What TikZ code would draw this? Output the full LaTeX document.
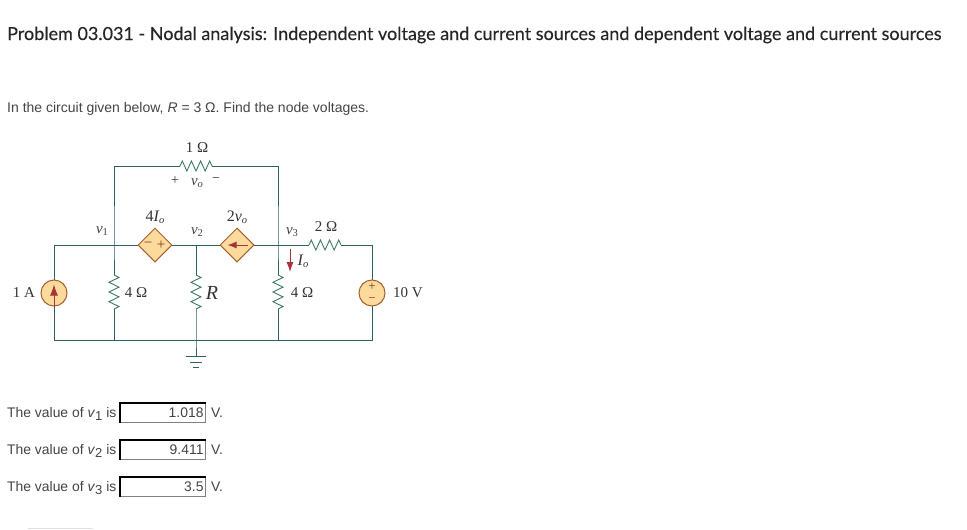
\documentclass[tikz,border=0pt]{standalone}
\usepackage{fontspec}
\setmainfont{Liberation Sans}
\newfontfamily\headfont[FakeBold=0.25]{Lato}
\newfontfamily\circfont{Liberation Serif}
\usetikzlibrary{calc,positioning,shapes.geometric,arrows.meta}
\definecolor{wirecol}{HTML}{2F5F60}
\definecolor{rescol}{HTML}{3E7A62}
\definecolor{srcfill}{HTML}{FBDA9C}
\definecolor{srcedge}{HTML}{A5602E}
\definecolor{signcol}{HTML}{7A3B1E}
\definecolor{arrowred}{HTML}{A8323A}
\definecolor{textcol}{HTML}{444444}
\tikzset{
    wire/.style={draw=wirecol,line width=0.9pt},
    res/.style={draw=rescol,line width=0.9pt,line join=miter},
    source/.style={circle,draw=srcedge,fill=srcfill,line width=1pt,minimum size=26pt,inner sep=0pt},
    depsource/.style={diamond,draw=srcedge,fill=srcfill,line width=1pt,minimum size=34pt,inner sep=0pt},
    redarrow/.style={draw=arrowred,line width=1pt,-{Latex[length=10pt,width=7pt]}},
    signlabel/.style={inner sep=0pt,text=signcol,font=\circfont\fontsize{15}{15}\selectfont},
    clabel/.style={font=\circfont\fontsize{15}{17}\selectfont,text=black!80,inner sep=0pt},
    slabel/.style={font=\circfont\itshape\fontsize{15}{16}\selectfont,text=black!75,inner sep=0pt},
    body/.style={font=\fontsize{13.9}{16}\selectfont,text=textcol,inner sep=0pt,anchor=base west},
    ansbox/.style={draw=black!50,line width=1pt,minimum width=85pt,minimum height=19pt,inner sep=2pt,anchor=north west,font=\fontsize{13.9}{16}\selectfont,text=textcol,text width=81pt,align=right},
}
\newcommand{\subv}[1]{\textit{v}\raisebox{-3.5pt}{\fontsize{13}{13}\selectfont #1}}
\newcommand{\subc}[2]{#1\raisebox{-2pt}{\fontsize{10.5}{10.5}\selectfont #2}}
\newcommand{\resistor}[2]{\draw[res] (#1) \foreach \i/\s in {1/1,3/-1,5/1,7/-1,9/1,11/-1,13/1} {-- ($(#1)!\i/14!(#2)!\s*5pt!90:(#2)$)} -- (#2);}
\begin{document}
\begin{tikzpicture}[x=1pt,y=-1pt]
    \useasboundingbox (0,0) rectangle (967,530);

    % heading and question
    \node[font=\headfont\fontsize{18}{20}\selectfont,text=black!85,inner sep=0pt,anchor=base west] (title) at (7,40) {Problem 03.031 - Nodal analysis: Independent voltage and current sources and dependent voltage and current sources};
    \node[body,font=\fontsize{14}{16}\selectfont] (question) at (7,112) {In the circuit given below, \textit{R} = 3 Ω. Find the node voltages.};

    % nodes of the circuit
    \coordinate (tl) at (114,166);
    \coordinate (tr) at (278,166);
    \coordinate (ml) at (54,245);
    \coordinate (v1) at (114,245);
    \coordinate (v2) at (196,245);
    \coordinate (v3) at (278,245);
    \coordinate (mr) at (372,245);
    \coordinate (bl) at (54,340);
    \coordinate (b1) at (114,340);
    \coordinate (b2) at (196,340);
    \coordinate (b3) at (278,340);
    \coordinate (br) at (372,340);
    \coordinate (gnd) at (196,356);

    % resistor ends
    \coordinate (r1a) at (180,166);
    \coordinate (r1b) at (212,166);
    \coordinate (r2a) at (309,245);
    \coordinate (r2b) at (341,245);
    \coordinate (r4a) at (114,275);
    \coordinate (r4b) at (114,309);
    \coordinate (rra) at (196,275);
    \coordinate (rrb) at (196,309);
    \coordinate (r3a) at (278,275);
    \coordinate (r3b) at (278,309);

    % wires
    \draw[wire] (r1a) -- (tl) -- (v1) -- (r4a);
    \draw[wire] (r4b) -- (b1);
    \draw[wire] (r1b) -- (tr) -- (v3) -- (r3a);
    \draw[wire] (r3b) -- (b3);
    \draw[wire] (v2) -- (rra);
    \draw[wire] (rrb) -- (b2) -- (gnd);
    \draw[wire] (r2a) -- (ml) -- (bl) -- (br) -- (mr) -- (r2b);

    % resistors
    \resistor{r1a}{r1b}
    \resistor{r2a}{r2b}
    \resistor{r4a}{r4b}
    \resistor{rra}{rrb}
    \resistor{r3a}{r3b}

    % sources
    \node[source] (isrc) at (54,293) {};
    \node[source] (vsrc) at (372,293) {};
    \node[depsource] (dv) at (155,245) {};
    \node[depsource] (di) at (237,245) {};
    \draw[redarrow,shorten <=1pt,shorten >=5pt,-{Latex[length=11pt,width=8pt]}] (isrc.south) -- (isrc.north);
    \draw[redarrow,shorten <=7pt,shorten >=8pt,-{Latex[length=9pt,width=7pt]}] (di.east) -- (di.west);
    \node[signlabel] (dvm) at (148,245) {−};
    \node[signlabel] (dvp) at (161,245) {+};
    \node[signlabel,font=\circfont\fontsize{13}{13}\selectfont] (vsp) at (372,287) {+};
    \node[signlabel,font=\circfont\fontsize{13}{13}\selectfont] (vsm) at (372,300) {−};

    % ground
    \draw[wire] ($(gnd)+(-10,0)$) -- ($(gnd)+(10,0)$);
    \draw[wire] ($(gnd)+(-6,6)$) -- ($(gnd)+(6,6)$);
    \draw[wire] ($(gnd)+(-3,11)$) -- ($(gnd)+(3,11)$);

    % current arrow
    \coordinate (ioa) at (290,249);
    \coordinate (iob) at (290,272);
    \draw[redarrow] (ioa) -- (iob);

    % labels of the circuit
    \node[clabel] (l1) at (197,148) {1 Ω};
    \node[clabel] (l2) at (326,227) {2 Ω};
    \node[clabel] (l3) at (136,293) {4 Ω};
    \node[clabel] (l4) at (302,293) {4 Ω};
    \node[clabel] (l5) at (24,293) {1 A};
    \node[clabel] (l6) at (408,293) {10 V};
    \node[clabel,font=\circfont\itshape\fontsize{20}{22}\selectfont] (lr) at (212,293) {R};
    \node[clabel,font=\circfont\fontsize{14}{15}\selectfont] (lp) at (175,181) {+};
    \node[clabel,font=\circfont\fontsize{14}{15}\selectfont] (lm) at (216,180) {−};
    \node[slabel] (lvo) at (197,183) {\subc{v}{o}};
    \node[slabel] (lv1) at (102,231) {\subc{v}{\textup{1}}};
    \node[slabel] (lv2) at (197,232) {\subc{v}{\textup{2}}};
    \node[slabel] (lv3) at (292,232) {\subc{v}{\textup{3}}};
    \node[clabel,font=\circfont\itshape\fontsize{16}{17}\selectfont] (l4i) at (155,217) {\subc{\textup{4}\textit{I}}{o}};
    \node[clabel,font=\circfont\itshape\fontsize{16}{17}\selectfont] (l2v) at (237,217) {\subc{\textup{2}\textit{v}}{o}};
    \node[clabel,font=\circfont\itshape\fontsize{16}{17}\selectfont] (lio) at (303,261) {\subc{I}{o}};

    % answers
    \node[body] (a1) at (7,417) {The value of \subv{1} is};
    \node[body] (a2) at (7,454) {The value of \subv{2} is};
    \node[body] (a3) at (7,491) {The value of \subv{3} is};
    \node[ansbox] (b1box) at (120,403) {1.018};
    \node[ansbox] (b2box) at (120,440) {9.411};
    \node[ansbox] (b3box) at (120,477) {3.5};
    \foreach \b in {b1box,b2box,b3box}
        \draw[black,line width=1.5pt] (\b.south west) -- (\b.north west) -- (\b.north east);
    \node[body] (u1) at (211,417) {V.};
    \node[body] (u2) at (211,454) {V.};
    \node[body] (u3) at (211,491) {V.};

    % faint rule at the bottom
    \draw[black!12,line width=0.8pt] (28,528) -- (93,528);
\end{tikzpicture}
\end{document}
